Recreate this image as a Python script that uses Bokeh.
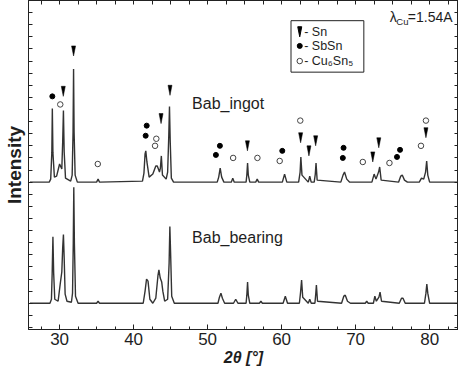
from bokeh.plotting import figure
from bokeh.models import Range1d, FixedTicker, LinearAxis, Label
from bokeh.embed import file_html
from bokeh.resources import INLINE

# ---- data -------------------------------------------------------------
# diffraction profiles: 2theta (deg) and relative intensity above baseline
ingot_x = [26.0, 28.6, 28.8, 28.95, 29.02, 29.1, 29.3, 29.6, 30.0, 30.3, 30.42, 30.52, 30.62, 30.8,
           31.5, 31.7, 31.82, 31.89, 31.96, 32.1, 32.4, 35.0, 35.2, 35.4,
           41.2, 41.4, 41.55, 41.65, 41.8, 42.1, 42.6, 43.0, 43.2, 43.5, 43.62, 43.75, 43.9,
           44.4, 44.6, 44.75, 44.85, 44.95, 45.1, 45.4,
           51.3, 51.5, 51.7, 51.9, 52.2, 53.2, 53.4, 53.6, 55.2, 55.3, 55.4, 55.5, 55.7,
           56.5, 56.7, 56.9, 60.1, 60.4, 60.7, 62.3, 62.5, 62.6, 62.75, 63.6, 63.8, 64.0,
           64.4, 64.55, 64.65, 64.8, 68.0, 68.3, 68.5, 68.8, 69.2,
           72.2, 72.5, 72.75, 73.1, 73.25, 73.45, 75.8, 76.1, 76.3, 76.6, 77.0,
           78.6, 78.9, 79.2, 79.45, 79.6, 79.75, 80.0, 84.0]
ingot_y = [0, 0, 3, 29, 73, 29, 5, 6, 18, 13, 40, 71, 30, 4,
           1, 7, 50, 112, 50, 7, 0, 0, 3, 0,
           1, 9, 28, 31, 20, 5, 8, 16, 16, 10, 14, 26, 7,
           3, 10, 45, 75, 40, 4, 0,
           0, 5, 14, 5, 0, 0, 4, 0, 0, 7, 19, 7, 0,
           0, 3, 0, 0, 8, 0, 0, 10, 25, 7, 0, 6, 0,
           0, 8, 19, 2, 0, 7, 10, 3, 0,
           0, 8, 3, 10, 15, 2, 0, 6, 7, 2, 0,
           0, 4, 3, 10, 21, 7, 0, 0]

bearing_x = [26.0, 28.7, 28.9, 29.0, 29.1, 29.2, 29.35, 29.8, 30.1, 30.3, 30.42, 30.52, 30.62, 30.75,
             31.0, 31.6, 31.75, 31.85, 31.92, 32.0, 32.15, 32.5, 35.0, 35.2, 35.4,
             41.3, 41.55, 41.75, 41.95, 42.2, 42.6, 43.0, 43.3, 43.42, 43.6, 43.8, 43.95, 44.2,
             44.6, 44.8, 44.9, 45.0, 45.15, 45.5,
             51.4, 51.6, 51.8, 52.0, 52.3, 53.5, 53.8, 54.1, 55.2, 55.3, 55.4, 55.5, 55.7,
             57.0, 57.2, 57.4, 60.2, 60.5, 60.8, 62.4, 62.55, 62.7, 62.85, 63.6, 63.8, 64.0,
             64.5, 64.6, 64.7, 64.85, 68.1, 68.4, 68.6, 68.9, 69.3, 71.3, 71.5, 71.7,
             72.4, 72.6, 72.8, 73.15, 73.3, 73.5, 75.9, 76.2, 76.4, 76.7,
             79.3, 79.5, 79.62, 79.75, 80.0, 84.0]
bearing_y = [0, 0, 4, 30, 66, 30, 4, 2, 20, 31, 55, 68, 45, 9,
             2, 1, 10, 60, 115, 60, 7, 0, 0, 2, 0,
             0, 12, 24, 22, 4, 0, 5, 28, 33, 25, 21, 12, 2,
             4, 40, 76, 50, 7, 0,
             0, 6, 10, 5, 0, 0, 4, 0, 0, 8, 21, 8, 0,
             0, 2, 0, 0, 7, 0, 0, 10, 23, 6, 0, 4, 0,
             0, 8, 18, 2, 0, 7, 8, 2, 0, 0, 2, 0,
             0, 7, 2, 6, 11, 2, 0, 5, 5, 0,
             0, 10, 19, 10, 0, 0]

# phase markers (2theta, plot intensity)
sn_x = [30.5, 31.89, 43.71, 44.92, 55.38, 62.57, 63.69, 64.6, 72.32, 73.13, 79.5]
sn_y = [210, 250, 183, 211, 156, 164, 151, 161, 145, 159, 169]
sbsn_x = [29.02, 41.63, 41.77, 51.12, 51.66, 60.09, 68.27, 68.37, 75.59, 76.0]
sbsn_y = [205, 166, 176, 147, 156, 151, 144, 154, 145, 152]
cu_x = [30.09, 35.16, 42.9, 43.07, 53.45, 56.73, 59.74, 62.52, 70.97, 74.57, 78.83, 79.5]
cu_y = [197, 138, 156, 163, 144, 144, 141, 181, 140, 139, 156, 181]

x_major = [30, 40, 50, 60, 70, 80]
x_minor = [27.5, 32.5, 35, 37.5, 42.5, 45, 47.5, 52.5, 55, 57.5, 62.5, 65, 67.5,
           72.5, 75, 77.5, 82.5]
y_ticks = list(range(-24, 301, 12))

OFFSET_INGOT = 120
OFFSET_BEARING = 0

FONT = "Liberation Sans"
LINE = "#333333"
TXT = "#1e1e1e"

# ---- figure ------------------------------------------------------------
p = figure(width=458, height=368, x_range=Range1d(25.8, 83.9), y_range=Range1d(-26, 300),
           output_backend="svg", toolbar_location=None,
           min_border_left=27, min_border_right=0, min_border_top=0, min_border_bottom=0)
p.grid.visible = False
p.outline_line_color = "#222222"
p.background_fill_color = "white"

p.line(ingot_x, [y + OFFSET_INGOT for y in ingot_y], line_color=LINE, line_width=1.4)
p.line(bearing_x, [y + OFFSET_BEARING for y in bearing_y], line_color=LINE, line_width=1.4)

# Sn: narrow down-pointing triangles
TW, TH = 0.27, 5
p.patches([[x - TW, x + TW, x] for x in sn_x], [[y + TH, y + TH, y - TH] for y in sn_y],
          fill_color="black", line_color="black", line_width=0.5)
p.scatter(sbsn_x, sbsn_y, marker="circle", size=5, fill_color="black", line_color="black")
p.scatter(cu_x, cu_y, marker="circle", size=5.5, fill_color="white", line_color="#444444", line_width=1)

# legend box (manual, to allow the subscripts)
p.quad(left=61.27, right=71.11, bottom=229, top=280, fill_color="white", line_color="#222222", line_width=1)
lx, tx = 62.45, 63.05
p.patches([[lx - TW, lx + TW, lx]], [[269 + TH, 269 + TH, 269 - TH]], fill_color="black", line_color="black")
p.scatter([lx], [255], marker="circle", size=5, fill_color="black", line_color="black")
p.scatter([lx], [240], marker="circle", size=5.5, fill_color="white", line_color="#444444", line_width=1)
for t, yy in [("- Sn", 269), ("- SbSn", 255), ("- Cu\u2086Sn\u2085", 240)]:
    p.add_layout(Label(x=tx, y=yy, text=t, text_font=FONT, text_font_size="12.5px",
                       text_baseline="middle", text_color=TXT))

# wavelength note
p.add_layout(Label(x=74.6, y=284, text="\u03bb", text_font=FONT, text_font_size="14px",
                   text_baseline="middle", text_color=TXT))
p.add_layout(Label(x=75.5, y=279, text="Cu", text_font=FONT, text_font_size="9.5px",
                   text_baseline="middle", text_color=TXT))
p.add_layout(Label(x=77.05, y=284, text="=1.54A", text_font=FONT, text_font_size="14px",
                   text_baseline="middle", text_color=TXT))

# sample names
p.add_layout(Label(x=47.9, y=198, text="Bab_ingot", text_font=FONT, text_font_size="16px",
                   text_baseline="middle", text_color=TXT))
p.add_layout(Label(x=47.9, y=65, text="Bab_bearing", text_font=FONT, text_font_size="16px",
                   text_baseline="middle", text_color=TXT))

# ---- axes --------------------------------------------------------------
def style_axis(ax, ticker):
    ax.ticker = ticker
    ax.major_tick_in = 5
    ax.major_tick_out = 0
    ax.minor_tick_in = 3
    ax.minor_tick_out = 0
    ax.axis_line_color = "#222222"
    ax.major_tick_line_color = "#222222"
    ax.minor_tick_line_color = "#222222"

xa = p.xaxis[0]
style_axis(xa, FixedTicker(ticks=x_major, minor_ticks=x_minor))
xa.major_label_text_font = FONT
xa.major_label_text_font_size = "17px"
xa.major_label_text_color = TXT
xa.major_label_standoff = 3
xa.axis_label = "2\u03b8 [\u00b0]"
xa.axis_label_text_font = FONT
xa.axis_label_text_font_size = "16px"
xa.axis_label_text_font_style = "bold italic"
xa.axis_label_text_color = TXT
xa.axis_label_standoff = 1

# label-free axes: ticks given as minor ticks only (no tick labels drawn)
ya = p.yaxis[0]
style_axis(ya, FixedTicker(ticks=[], minor_ticks=y_ticks))
ya.minor_tick_in = 4
ya.major_label_standoff = 0
ya.axis_label = "Intensity"
ya.axis_label_text_font = FONT
ya.axis_label_text_font_size = "19px"
ya.axis_label_text_font_style = "bold"
ya.axis_label_text_color = TXT
ya.axis_label_standoff = 4

top = LinearAxis(major_label_standoff=0, axis_label_standoff=0)
style_axis(top, FixedTicker(ticks=[], minor_ticks=x_major + x_minor))
top.minor_tick_in = 4
p.add_layout(top, "above")
right = LinearAxis(major_label_standoff=0, axis_label_standoff=0)
style_axis(right, FixedTicker(ticks=[], minor_ticks=y_ticks))
right.minor_tick_in = 4
p.add_layout(right, "right")

open("out.html", "w").write(file_html(p, INLINE))
